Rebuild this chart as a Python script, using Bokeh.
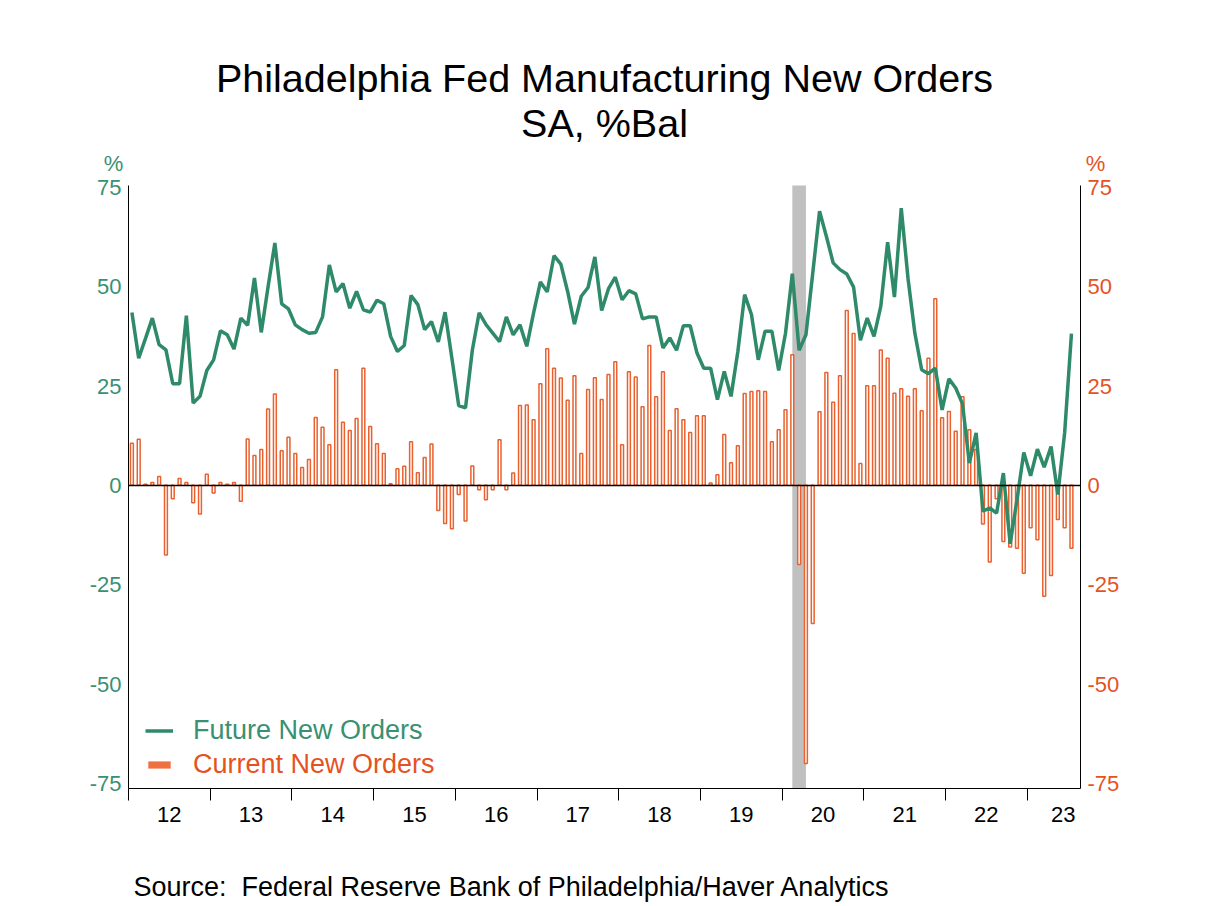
from bokeh.plotting import figure
from bokeh.models import (LinearAxis, FixedTicker, CustomJSTickFormatter, Range1d,
                          BoxAnnotation, Label, Legend, LegendItem, ColumnDataSource)
from bokeh.embed import file_html
from bokeh.resources import INLINE

# ---------------- data (monthly, Jan 2012 .. Jul 2023) ----------------
start_year = 2012
future_new_orders = [
    43.5, 32.0, 37.0, 42.1, 35.4, 34.1, 25.6, 25.6, 42.7, 20.7, 22.4, 28.9,   # 2012
    31.6, 38.9, 37.9, 34.3, 42.1, 40.3, 52.2, 38.5, 50.0, 61.0, 45.7, 44.4,   # 2013
    40.4, 39.2, 38.3, 38.5, 42.4, 55.5, 48.7, 50.8, 44.6, 48.8, 44.2, 43.6,   # 2014
    46.6, 45.7, 37.5, 33.7, 35.2, 47.8, 45.5, 39.2, 41.2, 36.1, 43.6, 32.0,   # 2015
    20.1, 19.5, 34.0, 43.4, 40.5, 38.3, 36.2, 42.4, 37.9, 40.4, 35.0, 43.4,   # 2016
    51.2, 48.7, 57.8, 55.7, 48.8, 40.6, 47.6, 49.8, 57.5, 44.0, 49.5, 52.4,   # 2017
    46.7, 49.0, 48.2, 41.9, 42.4, 42.4, 34.6, 37.1, 34.0, 40.2, 40.2, 33.3,   # 2018
    29.5, 29.5, 21.6, 28.7, 22.4, 33.7, 48.0, 43.0, 31.6, 38.8, 38.8, 28.9,   # 2019
    38.3, 53.3, 34.0, 37.9, 53.4, 69.0, 62.7, 56.0, 54.3, 53.2, 49.9, 36.5,   # 2020
    42.1, 37.5, 45.1, 61.2, 47.4, 69.8, 52.0, 38.3, 29.1, 28.1, 29.5, 19.0,   # 2021
    26.8, 24.5, 20.5, 5.6, 13.2, -6.5, -5.7, -7.0, 3.1, -14.7, -3.6, 8.3,     # 2022
    2.4, 9.1, 4.6, 9.8, -2.3, 13.2, 38.2,                                     # 2023
]
current_new_orders = [
    10.6, 11.6, 0.3, 0.7, 2.2, -17.5, -3.4, 1.7, 0.7, -4.4, -7.2, 2.8,        # 2012
    -1.9, 0.7, 0.3, 0.7, -4.0, 11.7, 7.5, 9.0, 19.2, 23.0, 8.7, 12.1,         # 2013
    8.0, 4.5, 6.5, 17.1, 14.6, 10.2, 29.1, 15.9, 13.8, 16.8, 29.5, 14.8,      # 2014
    10.5, 8.0, 0.4, 4.2, 4.8, 11.0, 3.2, 7.0, 10.4, -6.3, -9.6, -10.9,        # 2015
    -2.3, -9.0, 4.9, -1.1, -3.6, -1.1, 11.5, -1.1, 3.1, 20.1, 20.2, 16.5,     # 2016
    25.6, 34.4, 29.5, 27.0, 21.4, 27.6, 8.0, 24.1, 27.1, 21.6, 27.9, 31.1,    # 2017
    10.2, 28.6, 27.3, 19.8, 35.2, 22.3, 28.6, 13.8, 19.3, 16.5, 13.3, 17.5,   # 2018
    17.5, 0.6, 2.7, 12.8, 5.7, 10.0, 23.1, 23.6, 23.8, 23.6, 11.0, 14.0,      # 2019
    19.0, 32.9, -19.9, -70.0, -34.8, 18.5, 28.4, 20.9, 27.6, 44.0, 38.2, 5.5, # 2020
    25.1, 25.1, 34.1, 32.0, 23.2, 24.3, 22.4, 24.3, 18.8, 32.0, 47.0, 17.0,   # 2021
    18.6, 13.6, 22.3, 14.0, 9.0, -9.7, -19.3, -3.4, -14.1, -15.5, -15.8, -22.1,  # 2022
    -10.7, -13.7, -27.9, -22.7, -8.6, -10.7, -15.8,                           # 2023
]
year_label_positions = [2012.5, 2013.5, 2014.5, 2015.5, 2016.5, 2017.5, 2018.5,
                        2019.5, 2020.5, 2021.5, 2022.5, 2023.44]
year_boundaries = list(range(2012, 2024))
y_ticks = [-75, -50, -25, 0, 25, 50, 75]
recession = (2020 + 1.5 / 12, 2020 + 3.5 / 12)   # Feb 2020 - Apr 2020

months = [start_year + (i + 0.5) / 12 for i in range(len(future_new_orders))]
src = ColumnDataSource(dict(x=months, fut=future_new_orders, cur=current_new_orders))

# ---------------- geometry ----------------
W, H = 1208, 906
PX_PER_YEAR = 81.7        # horizontal scale
PX_PER_UNIT = 3.973       # vertical scale
X0, X1 = 2012.0, 2023.652  # plotted span (axes bounds)
Y0, Y1 = -76.3, 75.5
FRAME_L, FRAME_B = 128, 788   # pixel position of (X0, Y0)
XS = X0 - FRAME_L / PX_PER_YEAR
XE = XS + W / PX_PER_YEAR
YS = Y0 - (H - FRAME_B) / PX_PER_UNIT
YE = YS + H / PX_PER_UNIT

FONT = "Liberation Sans"
TEAL = "#2e8a68"
TEAL_TXT = "#3a9072"
ORANGE_BAR = "#e8612f"
ORANGE_TXT = "#e4531f"

p = figure(width=W, height=H, output_backend="svg", toolbar_location=None,
           x_range=Range1d(XS, XE), y_range=Range1d(YS, YE),
           min_border=0, min_border_left=0, min_border_right=0, min_border_top=0,
           min_border_bottom=0, background_fill_color="white",
           border_fill_color="white", outline_line_color=None)
p.xgrid.visible = False
p.ygrid.visible = False
p.xaxis.visible = False
p.yaxis.visible = False

rec = BoxAnnotation(left=recession[0], right=recession[1], bottom=Y0, top=Y1,
                    fill_color="#c0c0c0", fill_alpha=1.0, line_color=None, level="underlay")
p.add_layout(rec)

bars = p.vbar(x="x", top="cur", bottom=0, width=0.035, source=src,
              fill_color="white", line_color=ORANGE_BAR, line_width=1.5)
line = p.line(x="x", y="fut", source=src, line_color=TEAL, line_width=3.5)

# zero line (an unlabeled axis fixed at y = 0)
zero_axis = LinearAxis(fixed_location=0, bounds=(X0, X1), ticker=FixedTicker(ticks=[]),
                       axis_line_color="black", axis_line_width=1.3,
                       major_label_text_font_size="0px", major_tick_out=0, minor_tick_out=0)
p.add_layout(zero_axis, "below")

# bottom axis: year boundaries as ticks, labels mid-year
xaxis = LinearAxis(fixed_location=Y0, bounds=(X0, X1),
                   ticker=FixedTicker(ticks=year_label_positions, minor_ticks=year_boundaries),
                   formatter=CustomJSTickFormatter(code="return String(Math.floor(tick)).slice(2)"))
xaxis.major_tick_out = 0
xaxis.major_tick_in = 0
xaxis.minor_tick_out = 12
xaxis.minor_tick_in = 0
xaxis.minor_tick_line_color = "black"
xaxis.axis_line_color = "black"
xaxis.major_label_standoff = 6
xaxis.major_label_text_font = FONT
xaxis.major_label_text_font_size = "22px"
xaxis.major_label_text_color = "black"
p.add_layout(xaxis, "below")

for side, col, loc in (("left", TEAL_TXT, X0), ("right", ORANGE_TXT, X1)):
    ax = LinearAxis(fixed_location=loc, bounds=(Y0, Y1),
                    ticker=FixedTicker(ticks=y_ticks, minor_ticks=[]),
                    formatter=CustomJSTickFormatter(code="return tick.toString()"))
    ax.major_tick_out = 0
    ax.major_tick_in = 0
    ax.minor_tick_out = 0
    ax.minor_tick_in = 0
    ax.axis_line_color = "black"
    ax.major_label_standoff = 7
    ax.major_label_text_font = FONT
    ax.major_label_text_font_size = "22px"
    ax.major_label_text_color = col
    p.add_layout(ax, side)

# titles, unit markers and source (screen units from the bottom-left corner)
def screen_label(x, y, text, size, color, align="center"):
    p.add_layout(Label(x=x, y=H - y, x_units="screen", y_units="screen", text=text,
                       text_align=align, text_baseline="alphabetic", text_font=FONT,
                       text_font_size=size, text_color=color))

screen_label(604, 77, "Philadelphia Fed Manufacturing New Orders", "39.5px", "black")
screen_label(604, 122, "SA, %Bal", "39.5px", "black")
screen_label(113, 163, "%", "22px", TEAL_TXT)
screen_label(1095, 163, "%", "22px", ORANGE_TXT)
screen_label(133, 886, "Source:\u00a0 Federal Reserve Bank of Philadelphia/Haver Analytics",
             "27px", "black", align="left")

# legends
legend_bar = p.vbar(x="x", top="cur", bottom=0, width=0, source=src,
                    fill_color="#f07040", line_color=None)
leg1 = Legend(items=[LegendItem(label="Future New Orders", renderers=[line])],
              location=(145, 160), label_text_color=TEAL_TXT)
leg2 = Legend(items=[LegendItem(label="Current New Orders", renderers=[legend_bar])],
              location=(145, 126), label_text_color=ORANGE_TXT)
for lg in (leg1, leg2):
    lg.label_text_font = FONT
    lg.label_text_font_size = "27px"
    lg.glyph_width = 28
    lg.glyph_height = 9
    lg.label_height = 30
    lg.label_standoff = 20
    lg.padding = 0
    lg.margin = 0
    lg.background_fill_alpha = 0
    lg.border_line_alpha = 0
    p.add_layout(lg, "center")

open("out.html", "w").write(file_html(p, INLINE))
